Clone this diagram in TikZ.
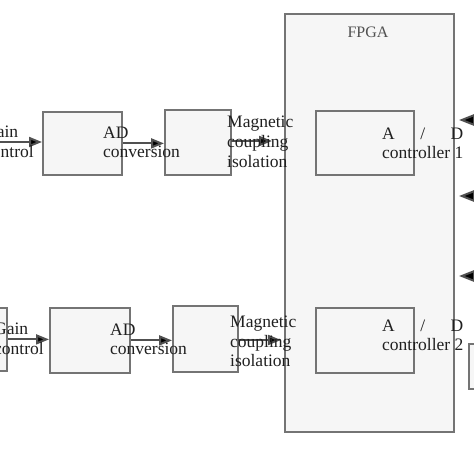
\documentclass[tikz,border=0pt]{standalone}
\usepackage{fontspec}
\setmainfont{Liberation Serif}
\usetikzlibrary{arrows.meta}
\definecolor{boxgray}{HTML}{747474}
\definecolor{boxfill}{HTML}{F6F6F6}
\definecolor{linegray}{HTML}{505050}
\definecolor{txt}{HTML}{202020}
\begin{document}
\begin{tikzpicture}[x=1pt,y=-1pt,
  blk/.style={draw=boxgray, line width=1.8pt, fill=boxfill, inner sep=0pt, anchor=north west},
  lbl/.style={text=txt, inner sep=0pt, anchor=base west, align=left, font=\fontsize{17.5}{20}\selectfont},
  conn/.style={draw=linegray, line width=2pt, -{Triangle[length=13pt,width=10pt,fill=black]}},
  bigconn/.style={draw=linegray, line width=2pt, -{Triangle[length=16pt,width=12pt,fill=black]}}]
\useasboundingbox (0,0) rectangle (474,474);
\fill[white] (0,0) rectangle (474,474);
% FPGA and inner boxes
\node[blk, minimum width=169pt, minimum height=418pt] (fpga) at (284,13) {};
\node[text=linegray, inner sep=0pt, font=\fontsize{16}{18}\selectfont] (fpgal) at (368,32) {FPGA};
\node[blk, minimum width=98pt, minimum height=64pt] (ctl1) at (315,110) {};
\node[blk, minimum width=98pt, minimum height=65pt] (ctl2) at (315,307) {};
% row 1 boxes
\node[blk, minimum width=79pt, minimum height=63pt] (ad1) at (42,111) {};
\node[blk, minimum width=66pt, minimum height=65pt] (iso1) at (164,109) {};
% row 2 boxes
\node[blk, minimum width=36pt, minimum height=63pt] (gain2) at (-30,307) {};
\node[blk, minimum width=80pt, minimum height=65pt] (ad2) at (49,307) {};
\node[blk, minimum width=65pt, minimum height=66pt] (iso2) at (172,305) {};
% right box
\node[blk, minimum width=40pt, minimum height=45pt] (rbox) at (468,343) {};
% coordinates
\coordinate (g1in) at (-5,142);
\coordinate (m1) at (272,141);
\coordinate (m2) at (281,340);
\coordinate (r1s) at (490,120);
\coordinate (r1e) at (459,120);
\coordinate (r2s) at (490,196);
\coordinate (r2e) at (459,196);
\coordinate (r3s) at (490,276);
\coordinate (r3e) at (459,276);
% connectors
\draw[conn] (g1in) -- (g1in -| ad1.west);
\draw[conn] (ad1.east) -- (ad1.east -| iso1.west);
\draw[conn] (iso1.east) -- (iso1.east |- m1) -- (m1);
\draw[conn] (gain2.east) -- (gain2.east -| ad2.west);
\draw[conn] (ad2.east) -- (ad2.east -| iso2.west);
\draw[conn] (iso2.east) -- (iso2.east |- m2) -- (m2);
\draw[bigconn] (r1s) -- (r1e);
\draw[bigconn] (r2s) -- (r2e);
\draw[bigconn] (r3s) -- (r3e);
% labels row 1
\node[lbl] (t1a) at (-16,137) {Gain};
\node[lbl] (t1b) at (-16,157) {control};
\node[lbl] (t2a) at (103,138) {AD};
\node[lbl] (t2b) at (103,157) {conversion};
\node[lbl] (t3a) at (227,127) {Magnetic};
\node[lbl] (t3b) at (227,147) {coupling};
\node[lbl] (t3c) at (227,167) {isolation};
\node[lbl] (t4a) at (382,139) {\makebox[81pt][s]{A\hfill/\hfill D}};
\node[lbl] (t4b) at (382,158) {controller 1};
% labels row 2
\node[lbl] (u1a) at (-6,334) {Gain};
\node[lbl] (u1b) at (-6,354) {control};
\node[lbl] (u2a) at (110,335) {AD};
\node[lbl] (u2b) at (110,354) {conversion};
\node[lbl] (u3a) at (230,327) {Magnetic};
\node[lbl] (u3b) at (230,347) {coupling};
\node[lbl] (u3c) at (230,366) {isolation};
\node[lbl] (u4a) at (382,331) {\makebox[81pt][s]{A\hfill/\hfill D}};
\node[lbl] (u4b) at (382,350) {controller 2};
\end{tikzpicture}
\end{document}
